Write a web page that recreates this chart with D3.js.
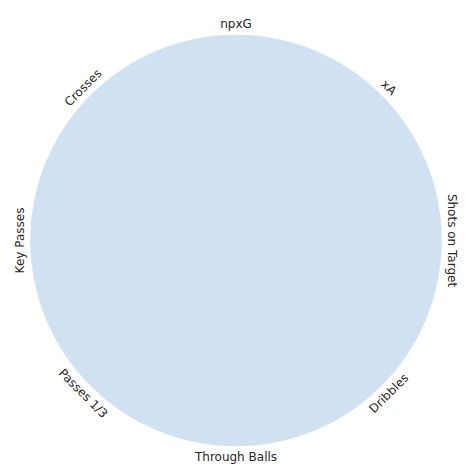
<!DOCTYPE html>
<html>
<head>
<meta charset="utf-8">
<script src="https://cdn.jsdelivr.net/npm/d3@7"></script>
<style>
  body { margin: 0; background: #fff; }
</style>
</head>
<body>
<div id="pizza"></div>
<script>
// chart data
const params = ["npxG", "xA", "Shots on Target", "Dribbles", "Through Balls", "Passes 1/3", "Key Passes", "Crosses"];
const values = [100, 100, 100, 100, 100, 100, 100, 100];

// set the dimensions of the graph
const width = 474, height = 473;
const cx = 236, cy = 240.5, radius = 205.5;

const svg = d3.select("#pizza")
  .append("svg")
  .attr("width", width)
  .attr("height", height)
  .append("g")
  .attr("transform", `translate(${cx},${cy})`);

// angle for each parameter, clockwise from the top
const x = d3.scaleBand()
  .domain(params)
  .range([0, 2 * Math.PI]);

// radius scale
const r = d3.scaleLinear()
  .domain([0, 100])
  .range([0, radius]);

const arc = d3.arc()
  .innerRadius(0)
  .outerRadius(d => r(d.value))
  .startAngle(d => x(d.param) - x.bandwidth() / 2)
  .endAngle(d => x(d.param) + x.bandwidth() / 2);

const data = params.map((p, i) => ({param: p, value: values[i]}));

// Add the slices
svg.append("g")
  .selectAll("path")
  .data(data)
  .join("path")
  .attr("d", arc)
  .attr("fill", "#d0e1f2")
  .attr("stroke", "#d0e1f2")
  .attr("stroke-width", 0.6);

// Add the labels, rotated along the circle
const labelR = r(105.2);
svg.append("g")
  .selectAll("text")
  .data(data)
  .join("text")
  .attr("transform", d => {
    const a = x(d.param);
    const deg = a * 180 / Math.PI;
    let rot = deg;
    if (deg > 90 && deg < 270) rot = deg - 180;
    const px = labelR * Math.sin(a), py = -labelR * Math.cos(a);
    return `translate(${px},${py}) rotate(${rot})`;
  })
  .attr("text-anchor", "middle")
  .attr("dominant-baseline", "central")
  .style("font-family", "DejaVu Sans")
  .style("font-size", "12px")
  .style("fill", "#262626")
  .text(d => d.param);
</script>
</body>
</html>
